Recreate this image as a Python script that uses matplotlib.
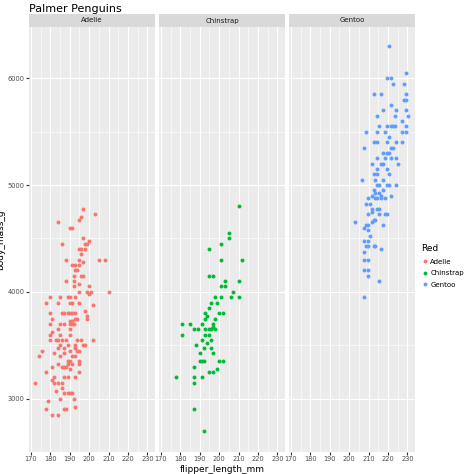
import matplotlib
matplotlib.use("Agg")
import matplotlib.pyplot as plt
from matplotlib.lines import Line2D

species = ["Adelie", "Chinstrap", "Gentoo"]
colors = ["#F8766D", "#00BA38", "#619CFF"]

adelie = [(197,4775),(203,4725),(184,4650),(195,4675),(196,4700),(190,4600),(191,4600),(197,4500),(199,4450),(200,4475),(198,4450),(186,4450),(195,4400),(196,4400),(198,4400),(196,4350),(188,4300),(195,4300),(197,4275),(205,4300),(208,4300),(191,4250),(193,4250),(195,4250),(193,4200),(194,4200),(192,4150),(196,4150),(197,4150),(188,4100),(192,4100),(195,4075),(192,4050),(200,4050),(201,4000),(199,4000),(195,4000),(200,3975),(210,4000),(180,3950),(185,3950),(190,3950),(189,3950),(193,3950),(184,3900),(178,3900),(190,3900),(191,3900),(195,3900),(202,3875),(198,3825),(180,3800),(187,3800),(186,3800),(189,3800),(190,3800),(191,3800),(193,3800),(199,3775),(199,3750),(181,3750),(193,3750),(194,3750),(190,3725),(191,3725),(180,3700),(185,3700),(187,3700),(190,3700),(191,3700),(192,3700),(184,3650),(190,3650),(181,3625),(180,3600),(185,3600),(190,3600),(180,3550),(183,3550),(184,3550),(186,3550),(188,3550),(194,3550),(196,3550),(202,3550),(185,3500),(187,3475),(189,3500),(193,3500),(197,3500),(198,3500),(176,3450),(184,3475),(193,3475),(190,3450),(194,3450),(195,3450),(182,3425),(187,3425),(174,3400),(185,3400),(191,3400),(193,3400),(189,3350),(190,3350),(191,3325),(195,3350),(184,3325),(188,3300),(189,3325),(186,3300),(187,3300),(195,3325),(181,3300),(190,3275),(195,3250),(178,3250),(182,3200),(187,3200),(189,3200),(193,3200),(181,3175),(184,3150),(186,3150),(182,3150),(172,3150),(186,3100),(183,3075),(187,3050),(189,3050),(191,3050),(190,3050),(185,3000),(192,3000),(179,2975),(178,2900),(187,2900),(188,2900),(193,2925),(181,2850),(184,2850)]

chinstrap = [(210,4800),(205,4550),(205,4500),(201,4450),(195,4400),(201,4300),(212,4300),(195,4150),(197,4150),(203,4100),(210,4100),(201,4050),(203,4050),(207,4000),(198,3950),(201,3950),(206,3950),(210,3950),(196,3900),(199,3900),(195,3850),(193,3800),(200,3800),(202,3800),(194,3775),(193,3750),(198,3750),(197,3700),(197,3675),(198,3650),(196,3650),(181,3700),(185,3700),(191,3700),(187,3650),(189,3650),(193,3650),(195,3650),(181,3600),(193,3600),(195,3600),(191,3550),(196,3550),(188,3500),(194,3525),(192,3475),(196,3475),(190,3425),(197,3425),(190,3350),(191,3350),(192,3350),(200,3350),(202,3350),(187,3300),(199,3275),(195,3250),(197,3250),(178,3200),(187,3200),(191,3200),(187,3150),(187,2900),(192,2700)]

gentoo = [(220.4,6300),(229.2,6050),(219.4,6000),(221.4,6000),(222.4,5950),(228.4,5950),(212.6,5850),(216.6,5850),(229.2,5850),(228.4,5800),(229.2,5800),(221.4,5750),(217.6,5700),(224.4,5700),(229.2,5700),(214.6,5650),(223.4,5650),(230.2,5650),(227.2,5600),(215.6,5550),(219.4,5550),(221.4,5550),(222.4,5550),(223.4,5550),(229.2,5550),(208.6,5500),(214.6,5500),(218.4,5500),(227.2,5500),(229.2,5500),(220.4,5450),(212.6,5400),(214.6,5400),(219.4,5400),(224.4,5400),(227.2,5400),(207.6,5350),(221.4,5350),(222.4,5350),(217.6,5300),(219.4,5300),(220.4,5300),(214.6,5250),(218.4,5250),(221.4,5250),(224.4,5250),(211.6,5200),(216.6,5200),(217.6,5200),(225.4,5200),(214.6,5150),(219.4,5150),(212.6,5100),(214.6,5100),(220.4,5100),(206.6,5050),(213.6,5050),(217.6,5050),(214.6,5000),(215.6,5000),(219.4,5000),(220.4,5000),(224.4,5000),(212.6,4950),(217.6,4950),(213.6,4925),(215.6,4925),(211.6,4900),(216.6,4900),(216.6,4880),(221.4,4900),(209.6,4875),(213.6,4875),(214.6,4875),(218.4,4875),(210.6,4825),(208.6,4825),(211.6,4775),(214.6,4775),(215.6,4775),(209.6,4725),(211.6,4750),(215.6,4725),(218.4,4725),(219.4,4725),(212.6,4675),(213.6,4675),(211.6,4650),(202.8,4650),(208.6,4625),(209.6,4625),(217.6,4625),(207.6,4600),(209.6,4575),(210.6,4525),(207.6,4475),(209.6,4475),(208.6,4425),(209.6,4425),(212.6,4425),(213.6,4425),(216.6,4400),(207.6,4375),(207.6,4300),(209.6,4300),(207.6,4200),(209.6,4200),(209.6,4150),(215.6,4100),(207.6,3950)]

data = [adelie, chinstrap, gentoo]

W = H = 474
fig = plt.figure(figsize=(4.74, 4.74), dpi=100)
panels_x = [(29, 155), (159, 285), (289, 415)]
top, bottom = 27, 452
txtc = "#4D4D4D"
for i, (x0, x1) in enumerate(panels_x):
    ax = fig.add_axes([x0/W, 1-bottom/H, (x1-x0)/W, (bottom-top)/H])
    ax.set_facecolor("#EBEBEB")
    xs = [p[0] for p in data[i]]; ys = [p[1] for p in data[i]]
    ax.scatter(xs, ys, s=8, color=colors[i], linewidths=0, zorder=3)
    ax.set_xlim(169.05, 233.95); ax.set_ylim(2520, 6480)
    ax.set_xticks(range(170, 231, 10)); ax.set_xticks(range(175, 231, 10), minor=True)
    ax.set_yticks([3000, 4000, 5000, 6000]); ax.set_yticks([2500, 3500, 4500, 5500], minor=True)
    ax.grid(which="major", color="white", lw=0.8)
    ax.grid(which="minor", color="white", lw=0.4)
    ax.set_axisbelow(True)
    for s in ax.spines.values(): s.set_visible(False)
    ax.tick_params(which="both", length=2, color="#333333", labelsize=4.8, labelcolor=txtc, pad=1.2)
    ax.tick_params(which="minor", length=0)
    if i > 0:
        ax.tick_params(axis="y", labelleft=False, length=0)
    else:
        ax.set_ylabel("body_mass_g", fontsize=6.5, labelpad=1.5)
    if i == 1:
        ax.set_xlabel("flipper_length_mm", fontsize=6.5, labelpad=1.5)
    sa = fig.add_axes([x0/W, 1-top/H, (x1-x0)/W, 13/H])
    sa.set_facecolor("#D9D9D9"); sa.set_xticks([]); sa.set_yticks([])
    for s in sa.spines.values(): s.set_visible(False)
    sa.text(0.5, 0.5, species[i], ha="center", va="center", fontsize=5, color="#1A1A1A", transform=sa.transAxes)

fig.text(29/W, 1-9/H, "Palmer Penguins", fontsize=8, va="center", ha="left")
handles = [Line2D([], [], ls="", marker="o", ms=2.8, mew=0, color=c) for c in colors]
leg = fig.legend(handles, species, title="Red", loc="upper left", bbox_to_anchor=(417/W, 1-240/H),
                 frameon=False, fontsize=5, title_fontsize=6.5, handletextpad=0.3, labelspacing=0.8,
                 handlelength=1.0, borderaxespad=0.2)
leg._legend_box.align = "left"
fig.savefig("out.png", dpi=100)
